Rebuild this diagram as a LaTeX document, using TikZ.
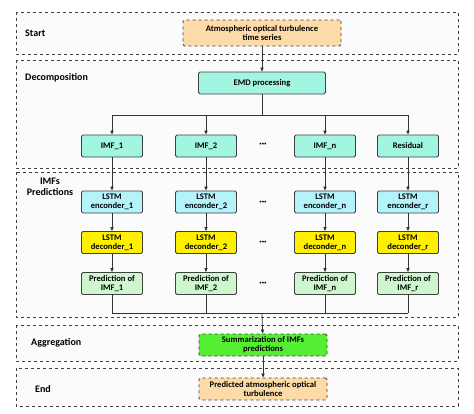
\documentclass[tikz,border=0pt]{standalone}
\usepackage{fontspec}
\setmainfont{Carlito}
\usetikzlibrary{positioning,arrows.meta}
\definecolor{PeachIn}{RGB}{253,219,168}
\definecolor{ImfTeal}{RGB}{162,245,224}
\definecolor{EncCyan}{RGB}{181,243,251}
\definecolor{DecYellow}{RGB}{255,240,0}
\definecolor{PredGreen}{RGB}{207,247,207}
\definecolor{SumGreen}{RGB}{85,238,51}
\definecolor{PanelGray}{RGB}{251,251,251}
\tikzset{
	panel/.style={draw=black!75,dashed,line width=0.8pt,fill=PanelGray},
	blk/.style={draw=black!75,rounded corners=1.5pt,line width=0.8pt,minimum width=61pt,
		minimum height=22pt,inner sep=1pt,align=center,font=\bfseries\fontsize{8.6}{9}\selectfont},
	imf/.style={blk,fill=ImfTeal},
	enc/.style={blk,fill=EncCyan},
	dec/.style={blk,fill=DecYellow},
	pred/.style={blk,fill=PredGreen},
	io/.style={blk,dashed,fill=PeachIn,minimum width=128pt},
	link/.style={draw=black!80,line width=0.7pt},
	arr/.style={link,-{Triangle[length=4pt,width=3.2pt]}},
	stage/.style={font=\bfseries\fontsize{10}{11}\selectfont,anchor=west,inner sep=0pt},
	dots/.style={font=\fontsize{5}{5}\selectfont,inner sep=0pt},
}

\begin{document}
\begin{tikzpicture}[x=1pt,y=-1pt]
	\useasboundingbox (0,0) rectangle (474,413);
	% stages
	\draw[panel] (16,12) rectangle (458,54);
	\draw[panel] (16,60) rectangle (458,168);
	\draw[panel] (16,172) rectangle (458,317);
	\draw[panel] (16,325) rectangle (458,361);
	\draw[panel] (16,368) rectangle (458,406);
	\node[stage] (lstart) at (25,33) {Start};
	\node[stage] (ldec) at (25,78) {Decomposition};
	\node[stage,anchor=center,align=center] (lpred) at (50,187) {IMFs\\Predictions};
	\node[stage] (lagg) at (31,343) {Aggregation};
	\node[stage] (lend) at (35,389) {End};
	% start and emd
	\node[io,minimum width=158pt,minimum height=26pt] (series) at (262,33) {Atmospheric optical turbulence\\time series};
	\node[imf,minimum width=127pt] (emd) at (262,83) {EMD processing};
	\draw[arr] (series) -- (emd);
	\coordinate (split) at (262,115);
	\coordinate (merge) at (262,313);
	\draw[link] (emd) -- (split);
	% columns
	\foreach \k/\x/\a/\b in {1/112/IMF\_1/1,2/206/IMF\_2/2,3/325/IMF\_n/n,4/408/Residual/r}{
		\node[imf] (imf\k) at (\x,146) {\a};
		\node[enc] (enc\k) at (\x,202) {LSTM\\enconder\_\b};
		\node[dec] (dec\k) at (\x,242.5) {LSTM\\deconder\_\b};
		\node[pred] (pred\k) at (\x,283.5) {Prediction of\\IMF\_\b};
		\coordinate (top\k) at (\x,115);
		\coordinate (bot\k) at (\x,313);
		\draw[arr] (top\k) -- (imf\k);
		\draw[arr] (imf\k) -- (enc\k);
		\draw[arr] (enc\k) -- (dec\k);
		\draw[arr] (dec\k) -- (pred\k);
		\draw[link] (pred\k) -- (bot\k);
	}
	\draw[link] (top1) -- (top4);
	\draw[link] (bot1) -- (bot4);
	\foreach \y/\n in {144/1,202/2,242/3,283/4}
		\node[dots] (dots\n) at (263,\y) {\textbullet\textbullet\textbullet};
	% aggregation and end
	\node[blk,dashed,fill=SumGreen,minimum width=128pt] (summ) at (263,345) {Summarization of IMFs\\predictions};
	\node[io] (result) at (263,389) {Predicted atmospheric optical\\turbulence};
	\draw[arr] (merge) -- (summ);
	\draw[arr] (summ) -- (result);
\end{tikzpicture}
\end{document}
